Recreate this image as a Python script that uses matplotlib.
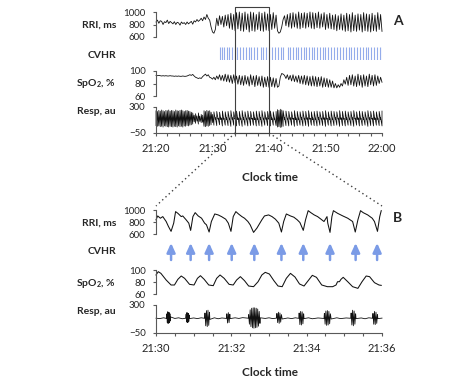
import numpy as np
import matplotlib
matplotlib.use('Agg')
import matplotlib.pyplot as plt
from matplotlib.lines import Line2D

plt.rcParams['font.family'] = ['Lato', 'DejaVu Sans']
plt.rcParams['mathtext.fontset'] = 'custom'
plt.rcParams['mathtext.rm'] = 'Lato'
plt.rcParams['mathtext.bf'] = 'Lato:bold'

# ---------------- data ----------------
# panel A: minutes after 21:20, signals sampled every 15 s
dt_a = 0.25
rri_a = [840, 870, 820, 860, 850, 800, 845, 830, 870, 815, 850,
         830, 810, 845, 800, 835, 825, 790, 840, 815, 830,
         800, 840, 810, 830, 850, 805, 860, 840, 880, 850,
         870, 900, 860, 920, 880, 960, 900, 870, 760, 680,
         660, 720, 900, 780, 940, 800, 930, 760, 950, 780,
         960, 740, 980, 720, 960, 700, 990, 730, 1000, 700,
         980, 690, 1000, 720, 970, 680, 1000, 700, 990, 690,
         960, 720, 1000, 700, 980, 690, 1000, 710, 970, 700,
         960, 720, 990, 740, 950, 700, 660, 680, 760, 880,
         940, 780, 960, 760, 980, 740, 990, 760, 970, 740,
         1000, 730, 980, 750, 990, 740, 980, 760, 1000, 740,
         990, 730, 980, 750, 1000, 740, 970, 760, 990, 720,
         960, 740, 980, 730, 950, 720, 960, 700, 940, 720,
         970, 710, 950, 690, 980, 700, 960, 680, 990, 700,
         950, 690, 970, 710, 960, 680, 990, 700, 970, 690,
         960, 680, 980, 700, 950, 690, 990, 720, 960, 690]
spo2_a = [93, 92.5, 93, 92.5, 92, 92.5, 92, 92.5, 92, 92, 92.5,
          92, 92, 91.5, 92, 91.5, 92, 91.5, 91.5, 92, 91.5,
          91.5, 92, 93, 94, 93, 94.5, 92, 90, 89, 88,
          89, 88, 91, 93, 95, 92, 94, 90, 89, 87,
          90, 86, 92, 87, 94, 85, 93, 84, 95, 83,
          94, 82, 93, 80, 94, 81, 92, 79, 93, 78,
          92, 77, 93, 79, 91, 76, 94, 78, 92, 75,
          93, 77, 91, 76, 92, 74, 90, 75, 91, 74,
          90, 75, 89, 74, 88, 74, 76, 90, 96, 95,
          93, 88, 94, 86, 93, 84, 94, 83, 92, 82,
          93, 80, 92, 79, 93, 78, 92, 77, 91, 76,
          92, 76, 91, 75, 90, 76, 91, 74, 89, 75,
          88, 74, 86, 74, 84, 73, 80, 73, 78, 74,
          80, 76, 86, 79, 90, 77, 93, 78, 94, 76,
          92, 75, 95, 77, 93, 74, 94, 76, 92, 75,
          95, 78, 93, 76, 94, 77, 92, 80, 90, 82]
# respiration: upper / lower envelope of each 15 s sample
resp_a_hi = [250, 240, 255, 245, 260, 250, 240, 255, 250, 260, 245, 255, 250, 240,
             260, 250, 245, 255, 260, 250, 240, 250, 255, 245, 240, 230, 220,
             190, 210, 180, 220, 175, 200, 190,
             250, 240, 255, 245, 250, 230, 200,
             235, 155, 240, 150, 230, 155, 245, 150, 235, 155,
             240, 150, 250, 155, 235, 150, 245, 155, 240, 150,
             250, 155, 235, 150, 245, 155, 240, 150, 235, 155,
             245, 150, 240, 155, 250, 150, 235, 155, 240, 150,
             245, 155, 235, 150, 240,
             265, 255, 270, 260, 250,
             155, 245, 150, 240, 155, 235, 150, 250, 155, 240,
             150, 235, 155, 245, 150, 240, 155, 250, 150, 235,
             155, 240, 150, 245, 155, 235, 150, 240, 155, 250,
             150, 235, 155, 245, 150, 240, 155, 235, 150, 250,
             155, 240, 150, 245, 155, 235, 150, 240, 155, 250,
             150, 235, 155, 245, 150, 240, 155, 235, 150, 250,
             155, 240, 150, 245, 155, 235, 150, 240, 155, 245]
resp_a_lo = [50, 40, 45, 35, 40, 30, 45, 40, 35, 30, 40, 35, 30, 40,
             35, 30, 45, 35, 40, 30, 45, 40, 50, 45, 55, 60, 70,
             100, 80, 110, 70, 105, 90, 95,
             40, 35, 45, 40, 50, 60, 90,
             55, 130, 50, 135, 60, 130, 45, 135, 55, 130,
             50, 135, 40, 130, 55, 135, 45, 130, 50, 135,
             40, 130, 55, 135, 45, 130, 50, 135, 55, 130,
             45, 135, 50, 130, 40, 135, 55, 130, 50, 135,
             45, 130, 55, 135, 50,
             30, 35, 25, 30, 40,
             130, 50, 135, 45, 130, 55, 135, 40, 130, 50,
             135, 55, 130, 45, 135, 50, 130, 40, 135, 55,
             130, 50, 135, 45, 130, 55, 135, 50, 130, 40,
             135, 55, 130, 45, 135, 50, 130, 55, 135, 40,
             130, 50, 135, 45, 130, 55, 135, 50, 130, 40,
             135, 55, 130, 45, 135, 50, 130, 55, 135, 40,
             130, 50, 135, 45, 130, 55, 135, 50, 130, 45]
cvhr_a = [11.3, 11.7, 12.1, 12.5, 12.9, 13.4, 13.9, 14.4, 14.9, 15.4, 15.9, 16.4,
          16.9, 17.4, 17.9, 18.5, 19.0, 19.5, 20.0, 20.6, 21.1, 21.6, 22.1, 22.5,
          23.4, 23.8, 24.2, 24.7, 25.2, 25.7, 26.2, 26.6, 27.1, 27.6, 28.0, 28.5,
          29.0, 29.5, 30.0, 30.5, 31.0, 31.5, 32.0, 32.5, 33.1, 33.6, 34.1, 34.6,
          35.1, 35.6, 36.1, 36.6, 37.1, 37.6, 38.1, 38.6, 39.1, 39.6, 40.0]
ticks_a = [0, 10, 20, 30, 40]
ticklabels_a = ['21:20', '21:30', '21:40', '21:50', '22:00']
zoom_window = (14, 20)   # boxed part of panel A, minutes after 21:20

# panel B: minutes after 21:30
rri_b_t = [0, 0.045, 0.116, 0.18, 0.27, 0.33, 0.40, 0.47, 0.52, 0.58, 0.67, 0.71, 0.80,
           0.87, 0.92, 0.98, 1.04, 1.12, 1.21, 1.29, 1.34, 1.41, 1.47, 1.56, 1.65, 1.74,
           1.85, 1.92, 1.99, 2.05, 2.12, 2.19, 2.28, 2.35, 2.44, 2.50, 2.59, 2.68, 2.81,
           2.88, 2.99, 3.08, 3.17, 3.26, 3.33, 3.39, 3.46, 3.57, 3.66, 3.75, 3.82, 3.91,
           3.97, 4.04, 4.11, 4.20, 4.29, 4.38, 4.46, 4.54, 4.56, 4.62, 4.67, 4.71, 4.82,
           4.96, 5.09, 5.22, 5.29, 5.36, 5.43, 5.50, 5.62, 5.74, 5.80, 5.88, 5.94, 5.98]
rri_b_v = [836, 901, 863, 890, 808, 726, 644, 781, 973, 945, 890, 901, 836,
           781, 660, 890, 956, 901, 863, 781, 753, 633, 808, 934, 918, 890,
           847, 781, 644, 890, 973, 934, 890, 863, 808, 753, 627, 699, 836,
           901, 918, 890, 847, 781, 633, 808, 934, 901, 880, 836, 792, 660,
           836, 989, 956, 918, 890, 847, 808, 890, 781, 627, 890, 989, 945,
           901, 863, 808, 633, 836, 989, 956, 918, 863, 808, 644, 890, 989]
spo2_b_t = [0, 0.06, 0.13, 0.27, 0.40, 0.49, 0.58, 0.67, 0.76, 0.89, 1.01, 1.10, 1.18,
            1.28, 1.40, 1.52, 1.61, 1.70, 1.81, 1.94, 2.05, 2.14, 2.24, 2.35, 2.46, 2.59,
            2.71, 2.81, 2.90, 3.01, 3.13, 3.24, 3.35, 3.46, 3.57, 3.69, 3.81, 3.93, 4.04,
            4.15, 4.26, 4.40, 4.55, 4.69, 4.78, 4.82, 4.87, 4.91, 4.97, 5.09, 5.22, 5.36,
            5.47, 5.58, 5.67, 5.80, 5.92, 5.98]
spo2_b_v = [91.7, 97.2, 94.4, 83.3, 75, 75, 84.4, 90, 86.1, 76.1, 75, 86.1, 90.5,
            84.4, 75, 73.9, 86.1, 91.7, 86.1, 76.1, 75, 83.3, 88.9, 82.2, 73.3, 72.2,
            80.5, 91.7, 96.1, 93.3, 82.2, 73.3, 72.2, 86.1, 94.4, 88.3, 76.7, 73.3, 82.2,
            91.1, 87.8, 75, 72.2, 72.2, 75, 80.5, 80.5, 84.4, 87.8, 80.5, 72.2, 69.4,
            80.5, 90, 88.9, 78.9, 75, 74.4]
resp_b_t = [0, 0.1, 0.2, 0.28,
            0.29, 0.30, 0.31, 0.32, 0.33, 0.34, 0.35, 0.36, 0.37, 0.38, 0.39,
            0.5, 0.6, 0.7, 0.79,
            0.80, 0.81, 0.82, 0.83, 0.84, 0.85, 0.86, 0.87, 0.88, 0.89,
            1.0, 1.1, 1.2, 1.29,
            1.30, 1.32, 1.34, 1.36, 1.38, 1.40, 1.42, 1.43,
            1.55, 1.65, 1.75, 1.87,
            1.88, 1.90, 1.92, 1.94, 1.96, 1.97,
            2.1, 2.2, 2.3, 2.45,
            2.46, 2.48, 2.50, 2.52, 2.54, 2.56, 2.58, 2.60, 2.62, 2.64, 2.66, 2.68, 2.70,
            2.72, 2.74, 2.76, 2.77,
            2.9, 3.0, 3.1, 3.2,
            3.21, 3.23, 3.25, 3.27, 3.29, 3.31, 3.33, 3.35,
            3.5, 3.6, 3.7, 3.79,
            3.80, 3.82, 3.84, 3.86, 3.88, 3.90, 3.92, 3.93,
            4.05, 4.15, 4.3, 4.46,
            4.47, 4.49, 4.51, 4.53, 4.55, 4.57, 4.59, 4.61, 4.63, 4.65,
            4.8, 4.9, 5.05, 5.17,
            5.18, 5.20, 5.22, 5.24, 5.26, 5.28, 5.30, 5.31,
            5.45, 5.55, 5.65, 5.75,
            5.76, 5.78, 5.80, 5.82, 5.84, 5.86, 5.88, 5.89,
            6.0]
resp_b_v = [135, 130, 140, 132,
            190, 80, 215, 70, 210, 75, 205, 85, 190, 100, 150,
            132, 140, 128, 135,
            185, 90, 205, 80, 200, 85, 195, 95, 175, 130,
            138, 130, 140, 134,
            200, 40, 230, 30, 235, 45, 210, 120,
            140, 128, 138, 132,
            190, 75, 205, 80, 185, 130,
            140, 132, 142, 135,
            180, 60, 240, 30, 260, 15, 265, 10, 265, 15, 260, 20, 250,
            35, 220, 70, 140,
            132, 140, 130, 136,
            195, 80, 210, 70, 200, 85, 180, 125,
            138, 130, 140, 133,
            200, 55, 220, 50, 215, 65, 190, 130,
            140, 128, 138, 132,
            195, 60, 225, 45, 230, 50, 220, 65, 190, 125,
            140, 130, 138, 134,
            200, 50, 235, 40, 225, 60, 190, 130,
            138, 128, 140, 134,
            195, 60, 220, 55, 210, 70, 180, 130,
            136]
cvhr_b = [0.40, 0.92, 1.41, 2.01, 2.61, 3.33, 3.91, 4.62, 5.30, 5.87]
ticks_b = [0, 2, 4, 6]
ticklabels_b = ['21:30', '21:32', '21:34', '21:36']

# ---------------- layout (pixels) ----------------
W, H = 474, 379
fig = plt.figure(figsize=(W / 100, H / 100), dpi=100)
X0, X1 = 156, 382
AX_COL = '#595959'
TXT_COL = '#262626'
TRACE = '#111111'
BLUE = '#94aceb'
ARROW = '#7b9be6'


def add_ax(top, bottom):
    return fig.add_axes([X0 / W, 1 - bottom / H, (X1 - X0) / W, (bottom - top) / H])


def style_y(ax, lim, ticks, xaxis=False):
    ax.set_ylim(*lim)
    ax.set_yticks(ticks)
    ax.patch.set_alpha(0)
    for s in ['top', 'right']:
        ax.spines[s].set_visible(False)
    ax.spines['left'].set_color(AX_COL)
    ax.spines['left'].set_linewidth(0.8)
    ax.tick_params(axis='y', direction='out', length=2.5, width=0.8, color=AX_COL,
                   labelsize=7, labelcolor=TXT_COL, pad=5)
    if xaxis:
        ax.spines['bottom'].set_color(AX_COL)
        ax.spines['bottom'].set_linewidth(0.8)
        ax.tick_params(axis='x', which='both', direction='out', length=2.5, width=0.8,
                       color=AX_COL, labelsize=8, labelcolor=TXT_COL, pad=5)
    else:
        ax.spines['bottom'].set_visible(False)
        ax.set_xticks([])


def side_label(text, y):
    fig.text(116 / W, 1 - y / H, text, ha='right', va='center', fontsize=7.5,
             fontweight='bold', color=TXT_COL)


panels = [
    dict(rri=(12, 37), cv=(47, 60), sp=(71, 96), rs=(107, 133)),
    dict(rri=(210, 234), cv=(243, 260), sp=(270, 294), rs=(305, 333)),
]

# ---------------- panel A ----------------
P = panels[0]
t_a = np.arange(len(rri_a)) * dt_a
ax_rri_a = add_ax(*P['rri'])
ax_rri_a.plot(t_a, rri_a, color=TRACE, lw=0.6, clip_on=False)
ax_rri_a.set_xlim(0, 40)
style_y(ax_rri_a, (600, 1000), [600, 800, 1000])

ax_cv_a = add_ax(*P['cv'])
ax_cv_a.vlines(cvhr_a, 0, 1, color=BLUE, lw=0.8)
ax_cv_a.set_xlim(0, 40)
ax_cv_a.set_ylim(0, 1)
ax_cv_a.axis('off')

ax_sp_a = add_ax(*P['sp'])
ax_sp_a.plot(t_a, spo2_a, color=TRACE, lw=0.6, clip_on=False)
ax_sp_a.set_xlim(0, 40)
style_y(ax_sp_a, (60, 100), [60, 80, 100])

ax_rs_a = add_ax(*P['rs'])
zig_t = np.repeat(t_a, 2)
zig_v = np.column_stack([resp_a_lo, resp_a_hi]).ravel()
ax_rs_a.plot(zig_t, zig_v, color=TRACE, lw=0.55, clip_on=False)
ax_rs_a.set_xlim(0, 40)
style_y(ax_rs_a, (-50, 300), [-50, 300], xaxis=True)
ax_rs_a.set_xticks(ticks_a)
ax_rs_a.set_xticklabels(ticklabels_a)
ax_rs_a.set_xticks(np.arange(0, 41, 2), minor=True)

side_label('RRI, ms', 25)
side_label('CVHR', 55)
side_label(r'SpO$_\mathbf{2}$, %', 84)
side_label('Resp, au', 112)
fig.text(398 / W, 1 - 21 / H, 'A', ha='center', va='center', fontsize=10,
         fontweight='bold', color=TXT_COL)
fig.text(270 / W, 1 - 178 / H, 'Clock time', ha='center', va='center', fontsize=8.5,
         fontweight='bold', color=TXT_COL)

# ---------------- panel B ----------------
P = panels[1]
ax_rri_b = add_ax(*P['rri'])
ax_rri_b.plot(rri_b_t, rri_b_v, color=TRACE, lw=0.75, clip_on=False)
ax_rri_b.set_xlim(0, 6)
style_y(ax_rri_b, (600, 1000), [600, 800, 1000])

ax_cv_b = add_ax(*P['cv'])
ax_cv_b.set_xlim(0, 6)
ax_cv_b.set_ylim(0, 1)
ax_cv_b.axis('off')
for t in cvhr_b:
    ax_cv_b.annotate('', xy=(t, 1), xytext=(t, 0),
                     arrowprops=dict(arrowstyle='-|>,head_width=0.25,head_length=0.55',
                                     lw=1.8, color=ARROW, mutation_scale=10,
                                     shrinkA=0, shrinkB=0))

ax_sp_b = add_ax(*P['sp'])
ax_sp_b.plot(spo2_b_t, spo2_b_v, color=TRACE, lw=0.75, clip_on=False)
ax_sp_b.set_xlim(0, 6)
style_y(ax_sp_b, (60, 100), [60, 80, 100])

ax_rs_b = add_ax(*P['rs'])
ax_rs_b.plot(resp_b_t, resp_b_v, color=TRACE, lw=0.6, clip_on=False)
ax_rs_b.set_xlim(0, 6)
style_y(ax_rs_b, (-50, 300), [-50, 300], xaxis=True)
ax_rs_b.set_xticks(ticks_b)
ax_rs_b.set_xticklabels(ticklabels_b)
ax_rs_b.set_xticks(np.arange(0, 6.01, 0.5), minor=True)

side_label('RRI, ms', 223)
side_label('CVHR', 252)
side_label(r'SpO$_\mathbf{2}$, %', 283)
side_label('Resp, au', 311)
fig.text(398 / W, 1 - 218 / H, 'B', ha='center', va='center', fontsize=10,
         fontweight='bold', color=TXT_COL)
fig.text(270 / W, 1 - 372 / H, 'Clock time', ha='center', va='center', fontsize=8.5,
         fontweight='bold', color=TXT_COL)

# ---------------- zoom box and connectors ----------------
to_fig = fig.transFigure.inverted()


def disp(ax, x, y):
    return ax.transData.transform((x, y))


bl = disp(ax_rs_a, zoom_window[0], -50)
br = disp(ax_rs_a, zoom_window[1], -50)
top_y = disp(ax_rri_a, 0, 1000)[1] + 5
box = np.array([bl, [bl[0], top_y], [br[0], top_y], br, bl])
box_f = to_fig.transform(box)
fig.add_artist(Line2D(box_f[:, 0], box_f[:, 1], color='#404040', lw=0.8,
                      transform=fig.transFigure))

b_tl = disp(ax_rri_b, 0, 1000) + [0, 4]
b_tr = disp(ax_rri_b, 6, 1000) + [0, 4]
for a, b in [(bl, b_tl), (br, b_tr)]:
    seg = to_fig.transform(np.array([a, b]))
    fig.add_artist(Line2D(seg[:, 0], seg[:, 1], color='#404040', lw=1.0,
                          linestyle=(0, (1, 2.2)), transform=fig.transFigure))

fig.savefig('out.png', dpi=100)
